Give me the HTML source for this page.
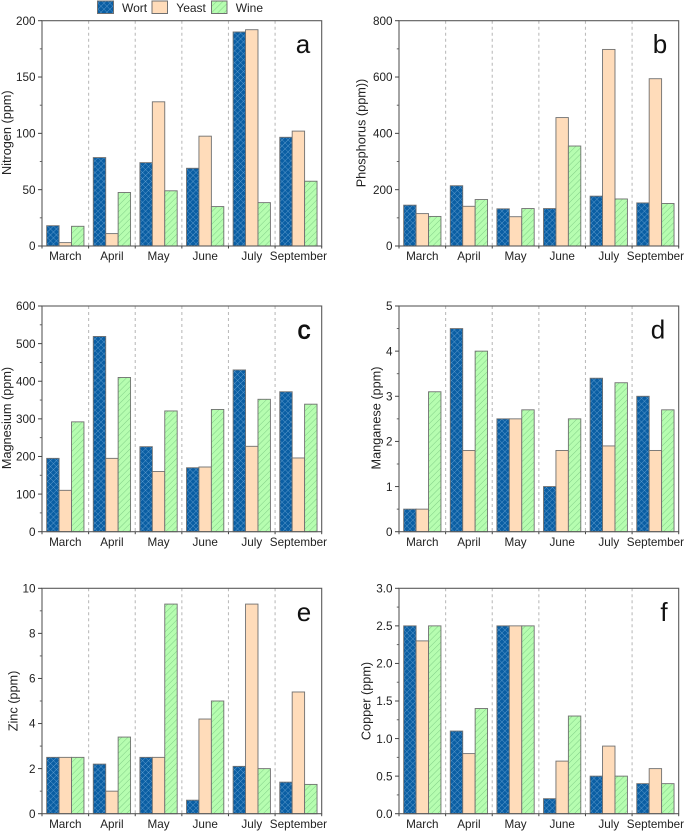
<!DOCTYPE html>
<html>
<head>
<meta charset="utf-8">
<title>Mineral content by month</title>
<style>
html,body{margin:0;padding:0;background:#fff;}
svg{display:block;font-family:"Liberation Sans",Arial,sans-serif;fill:#222;filter:blur(0.3px);}
</style>
</head>
<body>
<svg id="chart" xmlns="http://www.w3.org/2000/svg" width="685" height="831" viewBox="0 0 685 831">
  <defs>
    <pattern id="wortHatch" patternUnits="userSpaceOnUse" width="4.2" height="4.2" patternTransform="rotate(45)">
      <rect width="4.2" height="4.2" fill="#0a5ea3"></rect>
      <path d="M0 0H4.2M0 0V4.2" stroke="#6aa5d4" stroke-width="0.8" fill="none"></path>
    </pattern>
    <pattern id="wineHatch" patternUnits="userSpaceOnUse" width="4.4" height="4.4" patternTransform="rotate(45)">
      <rect width="4.4" height="4.4" fill="#b6fdb0"></rect>
      <path d="M0 0V4.4" stroke="#74c47c" stroke-width="0.8" fill="none"></path>
    </pattern>
  </defs>
  <g id="legend">
    <g>
      <rect x="97.5" y="1" width="16" height="12.5" fill="url(#wortHatch)" stroke="#707070" stroke-width="1"></rect>
      <text x="122" y="12" font-size="12">Wort</text>
    </g>
    <g>
      <rect x="152" y="1" width="15.5" height="12.5" fill="#ffdcba" stroke="#707070" stroke-width="1"></rect>
      <text x="176.3" y="12" font-size="12">Yeast</text>
    </g>
    <g>
      <rect x="211.5" y="1" width="15.5" height="12.5" fill="url(#wineHatch)" stroke="#707070" stroke-width="1"></rect>
      <text x="235.7" y="12" font-size="12">Wine</text>
    </g>
  </g>
</svg>
<script>
var months = ['March','April','May','June','July','September'];

var nitrogenWort  = [18,78.5,74,69,190,96.5];
var nitrogenYeast = [3,11,128,97.5,192,102];
var nitrogenWine  = [17.5,47.5,49,35,38.5,57.5];
var nitrogenTicks = ['0','50','100','150','200'];

var phosphorusWort  = [145,214,132,133,177,153];
var phosphorusYeast = [115,141,104,456,698,594];
var phosphorusWine  = [105,165,133,355,167,151];
var phosphorusTicks = ['0','200','400','600','800'];

var magnesiumWort  = [195,519,226,170,430,372];
var magnesiumYeast = [110,195,160,172,227,196];
var magnesiumWine  = [292,410,321,325,352,339];
var magnesiumTicks = ['0','100','200','300','400','500','600'];

var manganeseWort  = [0.5,4.5,2.5,1,3.4,3];
var manganeseYeast = [0.5,1.8,2.5,1.8,1.9,1.8];
var manganeseWine  = [3.1,4,2.7,2.5,3.3,2.7];
var manganeseTicks = ['0','1','2','3','4','5'];

var zincWort  = [2.5,2.2,2.5,0.6,2.1,1.4];
var zincYeast = [2.5,1,2.5,4.2,9.3,5.4];
var zincWine  = [2.5,3.4,9.3,5,2,1.3];
var zincTicks = ['0','2','4','6','8','10'];

var copperWort  = [2.5,1.1,2.5,0.2,0.5,0.4];
var copperYeast = [2.3,0.8,2.5,0.7,0.9,0.6];
var copperWine  = [2.5,1.4,2.5,1.3,0.5,0.4];
var copperTicks = ['0.0','0.5','1.0','1.5','2.0','2.5','3.0'];

var NS = 'http://www.w3.org/2000/svg';
var root = document.getElementById('chart');

function make(parent, tag, attrs, text) {
  var el = document.createElementNS(NS, tag);
  for (var k in attrs) { el.setAttribute(k, attrs[k]); }
  if (text !== undefined) { el.textContent = text; }
  parent.appendChild(el);
  return el;
}

function drawPanel(key, title, letter, ticks, wort, yeast, wine, box) {
  var L = box.left, T = box.top, W = 279.7, H = box.height;
  var R = L + W, B = T + H;
  var yMax = parseFloat(ticks[ticks.length - 1]);
  var catW = W / months.length;
  var barW = catW * 0.8 / 3;
  function xCat(i) { return L + i * catW; }
  function yVal(v) { return B - (v / yMax) * H; }

  var g = make(root, 'g', {});
  
  

  // category separators
  for (var i = 1; i < months.length; i++) {
    var sep = make(g, 'line', {x1: xCat(i), x2: xCat(i), y1: T, y2: B, stroke: '#bcbcbc', 'stroke-width': 1.1, 'stroke-dasharray': '3 3'});
    
    
  }

  // bars
  var seriesList = [
    {name: 'wort', values: wort, fill: 'url(#wortHatch)'},
    {name: 'yeast', values: yeast, fill: '#ffdcba'},
    {name: 'wine', values: wine, fill: 'url(#wineHatch)'}
  ];
  seriesList.forEach(function (s, si) {
    s.values.forEach(function (v, c) {
      var x = xCat(c) + catW * 0.1 + si * barW;
      var bar = make(g, 'rect', {x: x, y: yVal(v), width: barW, height: B - yVal(v), fill: s.fill, stroke: '#707070', 'stroke-width': 0.9});
      
      
    });
  });

  // frame
  var frame = make(g, 'rect', {x: L, y: T, width: W, height: H, fill: 'none', stroke: '#5a5a5a', 'stroke-width': 1.1});
  
  

  // x ticks and labels
  for (var j = 0; j <= months.length; j++) {
    var xt = make(g, 'line', {x1: xCat(j), x2: xCat(j), y1: B, y2: B + 2.5, stroke: '#444', 'stroke-width': 1});
    
    
  }
  months.forEach(function (m, c) {
    var lab = make(g, 'text', {x: xCat(c) + catW / 2, y: B + 14.2, 'font-size': 11.7, 'text-anchor': 'middle'}, m);
    
    
  });

  // y ticks, minor ticks and labels
  ticks.forEach(function (t, idx) {
    var v = parseFloat(t);
    var yt = make(g, 'line', {x1: L - 4, x2: L, y1: yVal(v), y2: yVal(v), stroke: '#444', 'stroke-width': 1});
    
    
    var lab = make(g, 'text', {x: L - 6.5, y: yVal(v) + 4.2, 'font-size': 11.7, 'text-anchor': 'end'}, t);
    
    
    if (idx < ticks.length - 1) {
      var mid = (v + parseFloat(ticks[idx + 1])) / 2;
      var mt = make(g, 'line', {x1: L - 2.2, x2: L, y1: yVal(mid), y2: yVal(mid), stroke: '#555', 'stroke-width': 0.9});
      
      
    }
  });

  // y title
  var cy = box.titleY;
  var yTitle = make(g, 'text', {x: box.titleX, y: cy, 'font-size': 12.7, 'text-anchor': 'middle', transform: 'rotate(-90 ' + box.titleX + ' ' + cy + ')'}, title);
  
  

  // panel letter
  var pl = make(g, 'text', {x: L + box.letterX, y: T + 32.5, 'font-size': 26, 'text-anchor': 'middle', fill: '#111', stroke: box.heavy ? '#111' : 'none', 'stroke-width': box.heavy ? 0.7 : 0}, letter);
  
  
}

drawPanel('nitrogen', 'Nitrogen (ppm)', 'a', nitrogenTicks, nitrogenWort, nitrogenYeast, nitrogenWine,
  {left: 42, top: 20.7, height: 225.3, titleX: 11, titleY: 132.7, letterX: 261});
drawPanel('phosphorus', 'Phosphorus (ppm))', 'b', phosphorusTicks, phosphorusWort, phosphorusYeast, phosphorusWine,
  {left: 399, top: 20.7, height: 225.3, titleX: 365.7, titleY: 133, letterX: 261});
drawPanel('magnesium', 'Magnesium (ppm)', 'c', magnesiumTicks, magnesiumWort, magnesiumYeast, magnesiumWine,
  {left: 42, top: 306, height: 225.7, titleX: 11, titleY: 418, letterX: 262, heavy: true});
drawPanel('manganese', 'Manganese (ppm)', 'd', manganeseTicks, manganeseWort, manganeseYeast, manganeseWine,
  {left: 399, top: 306, height: 225.7, titleX: 380.7, titleY: 418, letterX: 259});
drawPanel('zinc', 'Zinc (ppm)', 'e', zincTicks, zincWort, zincYeast, zincWine,
  {left: 42, top: 588.3, height: 225.4, titleX: 17.3, titleY: 701, letterX: 262});
drawPanel('copper', 'Copper (ppm)', 'f', copperTicks, copperWort, copperYeast, copperWine,
  {left: 399, top: 588.3, height: 225.4, titleX: 370.7, titleY: 701, letterX: 265});
</script>
</body>
</html>
